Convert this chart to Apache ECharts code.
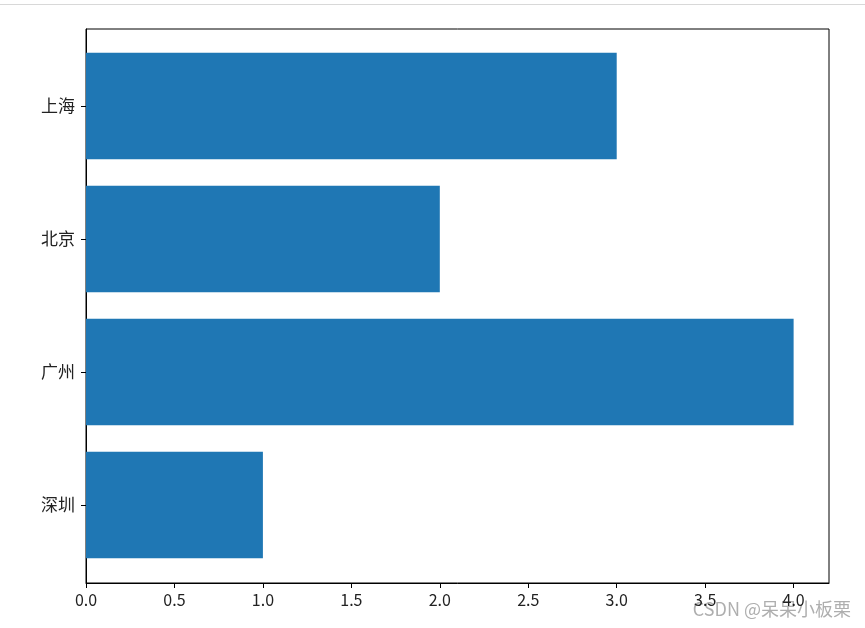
<!DOCTYPE html>
<html>
<head>
<meta charset="utf-8">
<script src="https://cdn.jsdelivr.net/npm/echarts@6/dist/echarts.min.js"></script>
<style>
  html, body { margin: 0; padding: 0; background: #fff; }
  #chart { width: 865px; height: 628px; }
</style>
</head>
<body>
<div id="chart"></div>
<script>
// bottom to top, as matplotlib draws barh
const cities = ['深圳', '广州', '北京', '上海'];
const counts = [1, 4, 2, 3];

const font = '"Noto Sans CJK SC", "Noto Sans", sans-serif';
const chart = echarts.init(document.getElementById('chart'));

chart.setOption({
  animation: false,
  // grid 0: the frame and x axis; grid 1: the bars, inset like matplotlib's margins
  grid: [
    { left: 86, right: 36, top: 29, bottom: 45, show: true, borderColor: '#000', borderWidth: 1 },
    { left: 86, right: 36, top: 39.5, bottom: 56.5 }
  ],
  xAxis: [{
    gridIndex: 0,
    type: 'value',
    min: 0, max: 4.2, interval: 0.5,
    splitLine: { show: false },
    axisLine: { show: true, lineStyle: { color: '#000' } },
    axisTick: { show: true, length: 5, lineStyle: { color: '#000' } },
    axisLabel: {
      color: '#222', fontFamily: font, fontSize: 16, margin: 9,
      showMaxLabel: false,
      formatter: v => v.toFixed(1)
    }
  }, {
    gridIndex: 1,
    type: 'value', min: 0, max: 4.2,
    show: false
  }],
  yAxis: [{
    gridIndex: 0,
    type: 'value', min: 0, max: 1,
    splitLine: { show: false },
    axisLine: { show: true, lineStyle: { color: '#000' } },
    axisTick: { show: false },
    axisLabel: { show: false }
  }, {
    gridIndex: 1,
    type: 'category',
    data: cities,
    axisLine: { show: false },
    axisTick: { show: true, alignWithLabel: true, length: 5, lineStyle: { color: '#000' } },
    axisLabel: { color: '#222', fontFamily: font, fontSize: 17, margin: 11 }
  }],
  series: [{
    type: 'bar',
    xAxisIndex: 1,
    yAxisIndex: 1,
    data: counts,
    barWidth: '80%',
    itemStyle: { color: '#1f77b4' }
  }],
  graphic: [
    { type: 'rect', shape: { x: 0, y: 4, width: 865, height: 1 }, style: { fill: '#d8d8d8' } },
    {
      type: 'text', right: 14, bottom: 10,
      style: { text: 'CSDN @呆呆小板栗', fill: 'rgba(140,140,140,0.7)', font: '18px ' + font }
    }
  ]
});
</script>
</body>
</html>
